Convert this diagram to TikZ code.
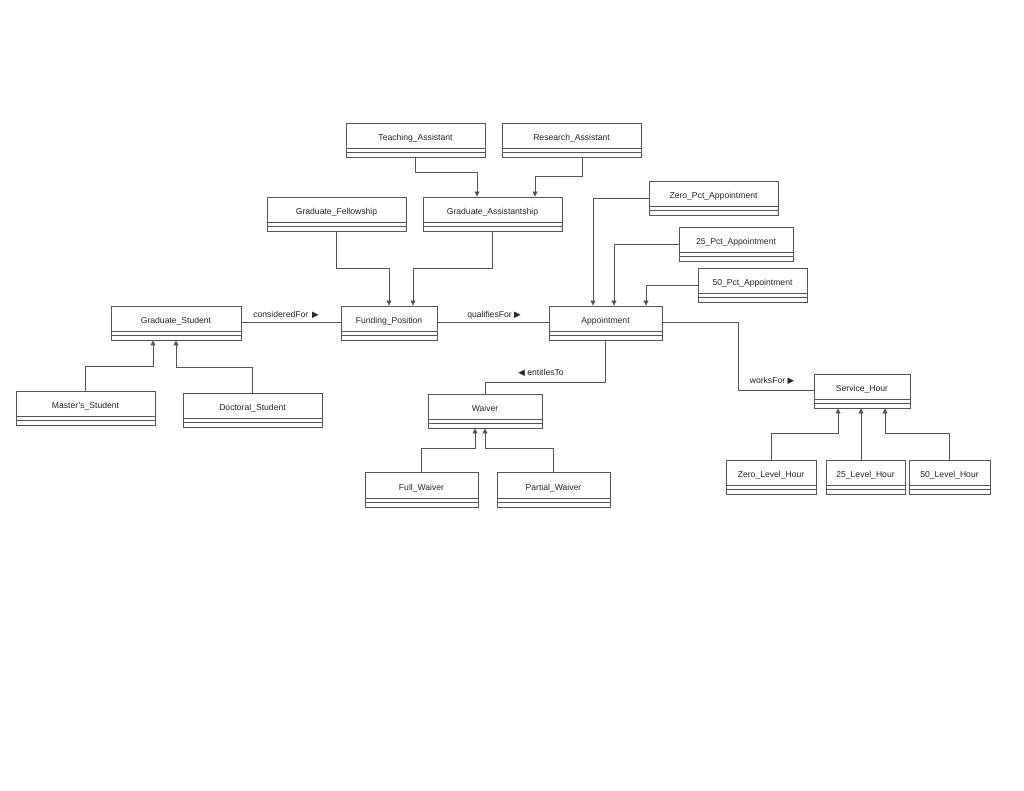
\documentclass[tikz,border=0pt]{standalone}
\usepackage{fontspec}
\setmainfont{Liberation Sans}
\newfontfamily\symf{DejaVu Sans}
\usetikzlibrary{arrows.meta}
\definecolor{ln}{HTML}{555555}
\tikzset{
 cls/.style={draw=ln,line width=0.9pt,fill=white,inner sep=0pt,text=black!85,
  font=\fontsize{8.6}{10}\selectfont,
  path picture={\draw[ln,line width=0.7pt] ([yshift=9pt]path picture bounding box.south west) -- ([yshift=9pt]path picture bounding box.south east);
   \draw[ln,line width=0.7pt] ([yshift=5pt]path picture bounding box.south west) -- ([yshift=5pt]path picture bounding box.south east);}},
 con/.style={draw=ln,line width=0.8pt},
 arr/.style={con,-{Triangle[width=5pt,length=5pt]}},
 lab/.style={font=\fontsize{8.6}{10}\selectfont,text=black!85,inner sep=1pt}
}
\newcommand{\cls}[6]{\node[cls,minimum width={#4-#2},minimum height={#5-#3}] (#1) at ({(#2+#4)/2},{(#3+#5)/2}) {\raisebox{4.5pt}{#6}};}
\begin{document}
\begin{tikzpicture}[x=1pt,y=-1pt]
\useasboundingbox (0,0) rectangle (1024,791);
\cls{ta}{346}{123}{485}{157}{Teaching\_Assistant}
\cls{ra}{502}{123}{641}{157}{Research\_Assistant}
\cls{gf}{267}{197}{406}{231}{Graduate\_Fellowship}
\cls{ga}{423}{197}{562}{231}{Graduate\_Assistantship}
\cls{zp}{649}{181}{778}{215}{Zero\_Pct\_Appointment}
\cls{tp}{679}{227}{793}{261}{25\_Pct\_Appointment}
\cls{fp5}{698}{268}{807}{302}{50\_Pct\_Appointment}
\cls{gs}{111}{306}{241}{340}{Graduate\_Student}
\cls{fp}{341}{306}{437}{340}{Funding\_Position}
\cls{ap}{549}{306}{662}{340}{Appointment}
\cls{ms}{16}{391}{155}{425}{Master's\_Student}
\cls{ds}{183}{393}{322}{427}{Doctoral\_Student}
\cls{wv}{428}{394}{542}{428}{Waiver}
\cls{sh}{814}{374}{910}{408}{Service\_Hour}
\cls{fw}{365}{472}{478}{507}{Full\_Waiver}
\cls{pw}{497}{472}{610}{507}{Partial\_Waiver}
\cls{zl}{726}{460}{816}{494}{Zero\_Level\_Hour}
\cls{tl}{826}{460}{905}{494}{25\_Level\_Hour}
\cls{fl}{909}{460}{990}{494}{50\_Level\_Hour}
% generalizations
\draw[arr] (ta.south) |- (477,172) -- ([xshift=-15.5pt]ga.north);
\draw[arr] ([xshift=10.5pt]ra.south) |- (535,176) -- ([xshift=42.5pt]ga.north);
\draw[arr] (gf.south) |- (389,268) -- (fp.north);
\draw[arr] (ga.south) |- (413,268) -- ([xshift=24pt]fp.north);
\draw[arr] (zp.west) -| ([xshift=-12.5pt]ap.north);
\draw[arr] (tp.west) -| ([xshift=8.5pt]ap.north);
\draw[arr] (fp5.west) -| ([xshift=40.5pt]ap.north);
\draw[arr] (ms.north) |- (153,366) -- ([xshift=-23pt]gs.north |- gs.south);
\draw[arr] (ds.north) |- (176,367) -- (gs.south);
\draw[arr] (fw.north) |- (475,448) -- ([xshift=-10pt]wv.south);
\draw[arr] (pw.north) |- (485,448) -- (wv.south);
\draw[arr] (zl.north) |- (838,433) -- ([xshift=-24pt]sh.south);
\draw[arr] ([xshift=-4.5pt]tl.north) -- ([xshift=-1pt]sh.south);
\draw[arr] (fl.north) |- (885,433) -- ([xshift=23pt]sh.south);
% associations
\draw[con] (gs.east |- 0,322) -- (fp.west |- 0,322);
\node[lab] (l1) at (286,315) {consideredFor \,{\symf ▶}};
\draw[con] (fp.east |- 0,322) -- (ap.west |- 0,322);
\node[lab] (l2) at (494,315) {qualifiesFor {\symf ▶}};
\draw[con] (ap.south) |- (485,382) -- (wv.north);
\node[lab] (l3) at (541,373) {{\symf ◀} entitlesTo};
\draw[con] (ap.east |- 0,322) -| (738,390) -- (sh.west |- 0,390);
\node[lab] (l4) at (772,381) {worksFor {\symf ▶}};
\end{tikzpicture}
\end{document}
